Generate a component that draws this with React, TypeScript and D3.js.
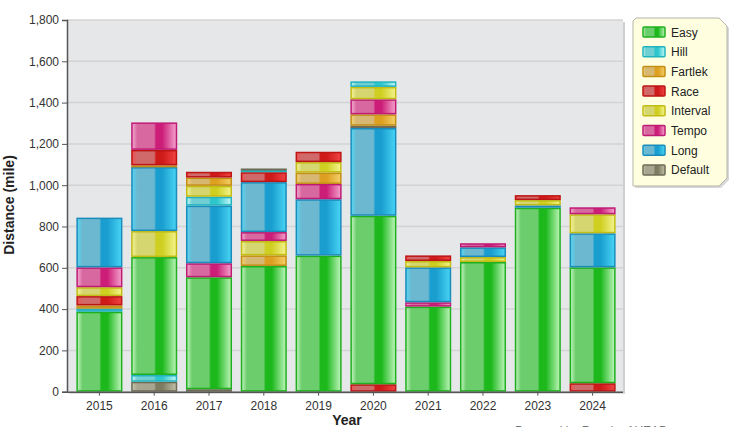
import React, { useEffect, useRef } from "react";
import { select, scaleBand, scaleLinear, axisLeft, axisBottom, format } from "d3";

const years = ["2015", "2016", "2017", "2018", "2019", "2020", "2021", "2022", "2023", "2024"];
const types = ["Easy", "Hill", "Fartlek", "Race", "Interval", "Tempo", "Long", "Default"];

// miles per run type, one entry per year
const easy = [387, 571, 542, 609, 659, 816, 412, 628, 891, 561];
const hill = [15, 33, 43, 12, 0, 27, 0, 0, 0, 0];
const fartlek = [16, 8, 40, 51, 55, 55, 0, 0, 0, 0];
const race = [45, 75, 28, 48, 50, 36, 27, 0, 24, 41];
const interval = [43, 126, 53, 70, 51, 60, 31, 24, 26, 92];
const tempo = [96, 133, 68, 43, 74, 73, 21, 20, 0, 34];
const long = [241, 310, 279, 242, 273, 425, 169, 47, 11, 165];
const dflt = [0, 48, 12, 6, 0, 11, 0, 0, 0, 0];

// bottom-to-top stacking of the types within each year
const stackOrder = [
  ["Easy", "Hill", "Fartlek", "Race", "Interval", "Tempo", "Long"],
  ["Default", "Hill", "Easy", "Interval", "Long", "Fartlek", "Race", "Tempo"],
  ["Default", "Easy", "Tempo", "Long", "Hill", "Interval", "Fartlek", "Race"],
  ["Easy", "Fartlek", "Interval", "Tempo", "Long", "Race", "Hill", "Default"],
  ["Easy", "Long", "Tempo", "Fartlek", "Interval", "Race"],
  ["Race", "Easy", "Long", "Default", "Fartlek", "Tempo", "Interval", "Hill"],
  ["Easy", "Tempo", "Long", "Interval", "Race"],
  ["Easy", "Interval", "Long", "Tempo"],
  ["Easy", "Long", "Interval", "Race"],
  ["Race", "Easy", "Long", "Interval", "Tempo"],
];

const yTicks = [0, 200, 400, 600, 800, 1000, 1200, 1400, 1600, 1800];

const values: Record<string, number[]> = {
  Easy: easy,
  Hill: hill,
  Fartlek: fartlek,
  Race: race,
  Interval: interval,
  Tempo: tempo,
  Long: long,
  Default: dflt,
};

// [muted, saturated, highlight, border]
const palette: Record<string, string[]> = {
  Easy: ["#6ccd6c", "#1cb81c", "#bff5bb", "#1fb01f"],
  Hill: ["#70cfd2", "#2cc6cc", "#c4f8f8", "#22b4be"],
  Fartlek: ["#d6b872", "#dea020", "#f4cf68", "#c48e14"],
  Race: ["#d06a6a", "#cf1a1a", "#f04444", "#bd1414"],
  Interval: ["#d6d670", "#cfcf22", "#f4f48e", "#c2bc14"],
  Tempo: ["#d868a0", "#cc1e78", "#f4a2cc", "#bf1a74"],
  Long: ["#6cb8d0", "#1a9ed0", "#48d4f4", "#1a8cbc"],
  Default: ["#a8a690", "#7e7c60", "#c2c0a8", "#6e6c56"],
};

const W = 737;
const H = 427;
const plot = { left: 67, right: 623, top: 20, bottom: 391.7 };

const App = () => {
  const svgRef = useRef<SVGSVGElement>(null);

  useEffect(() => {
    const svg = select(svgRef.current);
    svg.selectAll("*").remove();
    const font = "'Liberation Sans', Arial, sans-serif";

    const defs = svg.append("defs");
    types.forEach((t) => {
      const [muted, sat, hi] = palette[t];
      const g = defs.append("linearGradient").attr("id", "g-" + t).attr("x1", 0).attr("x2", 1).attr("y1", 0).attr("y2", 0);
      g.append("stop").attr("offset", 0).attr("stop-color", hi).attr("stop-opacity", 0.9);
      g.append("stop").attr("offset", 0.12).attr("stop-color", muted);
      g.append("stop").attr("offset", 0.5).attr("stop-color", muted);
      g.append("stop").attr("offset", 0.54).attr("stop-color", sat);
      g.append("stop").attr("offset", 0.68).attr("stop-color", sat);
      g.append("stop").attr("offset", 1).attr("stop-color", hi);
    });

    const x = scaleBand().domain(years).range([72, 620]).paddingInner(0.16).paddingOuter(0.08);
    const y = scaleLinear().domain([0, 1800]).range([plot.bottom, plot.top]);

    // plot background + shadow
    svg.append("rect").attr("x", plot.left + 2).attr("y", plot.top + 2)
      .attr("width", plot.right - plot.left).attr("height", plot.bottom - plot.top)
      .attr("fill", "#cfcfcf");
    svg.append("rect").attr("x", plot.left).attr("y", plot.top)
      .attr("width", plot.right - plot.left).attr("height", plot.bottom - plot.top)
      .attr("fill", "#e6e7e9");

    svg.append("g").selectAll("line").data(yTicks.slice(1)).join("line")
      .attr("x1", plot.left).attr("x2", plot.right)
      .attr("y1", (d) => y(d)).attr("y2", (d) => y(d))
      .attr("stroke", "#d3d3d3").attr("stroke-width", 1.5);

    const segs: { year: string; type: string; y0: number; y1: number }[] = [];
    years.forEach((yr, i) => {
      let acc = 0;
      stackOrder[i].forEach((t) => {
        const v = values[t][i];
        if (!v) return;
        segs.push({ year: yr, type: t, y0: acc, y1: acc + v });
        acc += v;
      });
    });

    svg.append("g").selectAll("rect").data(segs).join("rect")
      .attr("x", (d) => x(d.year)! + 0.75)
      .attr("y", (d) => y(d.y1) + 0.75)
      .attr("width", x.bandwidth() - 1.5)
      .attr("height", (d) => Math.max(0.5, y(d.y0) - y(d.y1) - 1.5))
      .attr("fill", (d) => `url(#g-${d.type})`)
      .attr("stroke", (d) => palette[d.type][3])
      .attr("stroke-width", 1.5);

    const yAxis = svg.append("g").attr("transform", `translate(${plot.left},0)`)
      .call(axisLeft(y).tickValues(yTicks).tickFormat(format(",")).tickSize(5).tickPadding(3));
    yAxis.select(".domain").attr("stroke", "#555").attr("stroke-width", 1.5);
    yAxis.selectAll(".tick line").attr("stroke", "#555");
    yAxis.selectAll("text").attr("font-family", font).attr("font-size", 12).attr("fill", "#333");

    const xAxis = svg.append("g").attr("transform", `translate(0,${plot.bottom})`)
      .call(axisBottom(x).tickSize(4).tickSizeOuter(0).tickPadding(6));
    xAxis.select(".domain").attr("d", `M${plot.left},0.5H${plot.right}`).attr("stroke", "#555").attr("stroke-width", 1.5);
    xAxis.selectAll(".tick line").attr("stroke", "#555");
    xAxis.selectAll("text").attr("font-family", font).attr("font-size", 12).attr("fill", "#333");

    svg.append("text").attr("transform", "translate(14,205) rotate(-90)")
      .attr("text-anchor", "middle").attr("font-family", font).attr("font-size", 14)
      .attr("font-weight", "bold").attr("fill", "#222").text("Distance (mile)");
    svg.append("text").attr("x", 347).attr("y", 425).attr("text-anchor", "middle")
      .attr("font-family", font).attr("font-size", 14).attr("font-weight", "bold")
      .attr("fill", "#222").text("Year");

    // legend with bevelled corners
    const lx = 633, ly = 18, lw = 94, lh = 168, c = 8;
    const legendPath = `M${lx + 3},${ly}H${lx + lw - c}L${lx + lw},${ly + c}V${ly + lh - c}L${lx + lw - c},${ly + lh}H${lx}V${ly + 3}Z`;
    svg.append("path").attr("d", legendPath).attr("transform", "translate(2,2)").attr("fill", "#d8d8d8");
    svg.append("path").attr("d", legendPath).attr("fill", "#ffffe0").attr("stroke", "#b4b4a8");

    const lg = svg.append("g").selectAll("g").data(types).join("g")
      .attr("transform", (d, i) => `translate(643,${27 + i * 19.7})`);
    lg.append("rect").attr("width", 22).attr("height", 10).attr("rx", 1)
      .attr("fill", (d) => `url(#g-${d})`).attr("stroke", (d) => palette[d][3]).attr("stroke-width", 1.5);
    lg.append("text").attr("x", 28).attr("y", 9.5).attr("font-family", font).attr("font-size", 12)
      .attr("fill", "#222").text((d) => d);

    svg.append("text").attr("x", 515).attr("y", 435).attr("font-family", font).attr("font-size", 12)
      .attr("fill", "#777").text("Powered by RunningAHEAD.com");
  }, []);

  return (
    <div style={{ position: "absolute", left: 0, top: 0 }}>
      <svg ref={svgRef} width={W} height={H} style={{ display: "block", background: "#fff" }} />
    </div>
  );
};

export default App;
